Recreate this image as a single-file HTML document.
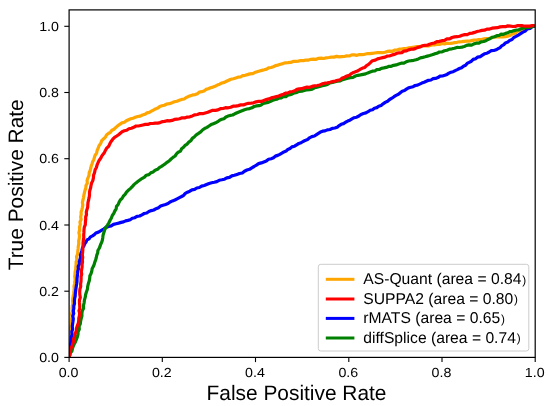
<!DOCTYPE html>
<html><head><meta charset="utf-8"><title>ROC</title>
<style>
html,body{margin:0;padding:0;background:#fff;}
svg{display:block;}
text{font-family:"Liberation Sans",sans-serif;fill:#000;text-rendering:geometricPrecision;}
.t{font-size:13.2px;}
.l{font-size:20.9px;}
.g{font-size:15.68px;}
.p{font-size:11.8px;}
</style></head>
<body>
<svg width="550" height="406" viewBox="0 0 550 406">
<defs><clipPath id="c"><rect x="69.1" y="9.9" width="466.1" height="347.5"/></clipPath></defs>
<rect x="0" y="0" width="550" height="406" fill="#fff"/>
<rect x="69.1" y="9.9" width="466.1" height="347.5" fill="#fff" stroke="none"/>
<path d="M68.8,357.3 L68.6,354.7 L68.8,352.1 L69.6,349.6 L69.5,347.0 L69.4,344.5 L69.7,342.0 L70.0,339.5 L70.0,337.0 L70.5,334.5 L70.2,332.0 L70.6,329.5 L70.7,327.0 L71.3,324.5 L71.5,321.9 L71.5,319.3 L72.0,316.7 L71.5,314.0 L72.3,311.3 L72.1,308.7 L72.3,306.1 L72.8,303.6 L72.6,301.1 L72.7,298.6 L73.2,296.2 L73.6,293.8 L73.9,291.3 L74.2,288.9 L74.0,286.4 L74.5,284.0 L74.9,281.6 L75.1,279.1 L74.7,276.6 L75.0,274.2 L75.1,271.8 L75.7,269.3 L75.8,266.9 L76.1,264.4 L76.1,261.9 L76.9,259.4 L76.5,256.7 L77.6,254.2 L77.8,251.5 L78.1,248.9 L78.3,246.2 L78.8,243.6 L78.7,240.9 L79.3,238.2 L79.5,235.5 L78.9,232.7 L79.6,230.0 L79.5,227.2 L80.3,224.6 L80.0,221.9 L81.1,219.5 L80.7,216.9 L81.2,214.5 L81.1,212.1 L81.9,209.7 L82.4,207.3 L82.8,204.9 L82.4,202.4 L83.0,200.0 L83.5,197.6 L83.9,195.2 L84.4,192.8 L85.0,190.4 L85.8,188.1 L86.0,185.6 L87.3,183.2 L87.1,180.4 L88.0,177.8 L89.0,175.3 L89.2,172.7 L90.2,170.3 L90.8,168.0 L91.3,165.8 L92.1,163.7 L92.7,161.6 L93.8,159.7 L94.4,157.5 L95.1,155.3 L96.6,153.3 L97.1,150.7 L98.2,148.2 L99.1,145.6 L100.8,143.3 L101.7,140.7 L103.6,138.8 L105.5,137.1 L106.5,134.9 L108.3,133.5 L110.4,132.3 L111.9,130.3 L114.1,129.2 L115.9,127.4 L117.8,125.8 L119.8,124.3 L121.9,122.9 L124.4,122.3 L126.3,120.8 L128.5,119.7 L130.7,118.8 L133.0,118.2 L135.3,117.3 L137.7,116.5 L140.2,116.1 L142.5,115.0 L144.9,114.3 L147.0,112.9 L149.3,112.4 L151.4,111.2 L153.4,110.1 L155.5,108.9 L157.7,108.1 L159.7,106.6 L162.0,105.8 L164.4,105.2 L166.8,104.0 L169.4,103.7 L172.0,102.8 L174.4,101.8 L176.9,101.2 L179.3,100.2 L181.6,99.4 L184.1,99.0 L186.1,97.7 L188.2,96.6 L190.5,95.7 L192.7,94.9 L195.2,94.6 L197.4,93.7 L199.3,92.1 L201.7,91.7 L204.0,91.0 L206.0,89.4 L208.3,88.7 L210.5,87.7 L212.9,87.1 L215.1,86.2 L217.3,85.1 L219.6,84.2 L221.8,83.0 L224.3,82.4 L226.5,81.3 L228.7,80.3 L230.9,79.2 L233.4,78.7 L235.7,78.0 L238.0,77.2 L240.5,77.0 L242.7,75.6 L245.1,75.3 L247.5,74.6 L249.9,73.9 L252.4,73.7 L254.7,72.6 L257.1,71.7 L259.5,71.0 L261.9,70.4 L264.2,69.8 L266.6,69.1 L268.6,67.8 L271.0,67.5 L273.3,66.7 L275.5,65.6 L278.0,65.1 L280.4,64.2 L282.9,63.6 L285.4,62.8 L288.0,62.7 L290.6,62.4 L293.1,61.4 L295.7,61.3 L298.3,61.1 L300.9,60.5 L303.5,60.6 L306.0,60.0 L308.6,60.1 L311.1,59.3 L313.6,59.1 L316.2,59.3 L318.6,58.3 L321.2,58.2 L323.8,58.5 L326.3,57.8 L328.8,57.5 L331.4,57.1 L334.0,57.1 L336.5,56.4 L339.1,56.9 L341.6,56.6 L344.2,56.5 L346.7,55.9 L349.3,56.0 L351.8,54.9 L354.3,54.9 L356.9,55.3 L359.4,54.5 L362.0,54.7 L364.5,54.3 L367.0,53.7 L369.6,53.7 L372.1,53.3 L374.6,53.0 L377.2,52.7 L379.7,52.6 L382.4,52.7 L384.9,52.2 L387.3,51.4 L389.8,51.1 L392.4,51.3 L394.6,50.2 L397.0,50.0 L399.2,49.2 L401.7,49.1 L404.0,48.5 L406.5,48.6 L408.9,47.9 L411.4,47.5 L413.9,47.2 L416.5,46.6 L419.1,46.7 L421.6,46.0 L424.1,45.9 L426.7,45.7 L429.3,45.8 L431.8,45.0 L434.3,44.9 L436.9,44.4 L439.4,44.4 L441.9,43.5 L444.5,43.9 L447.0,43.2 L449.6,43.5 L452.1,43.2 L454.5,42.6 L457.0,42.3 L459.4,41.8 L461.8,41.6 L464.2,41.3 L466.7,41.2 L469.2,41.2 L471.6,40.6 L474.0,40.2 L476.4,40.0 L478.8,39.6 L481.4,39.5 L483.9,38.9 L486.5,38.5 L489.2,38.3 L491.9,37.8 L494.6,37.0 L497.3,36.8 L500.1,37.0 L502.8,36.8 L505.4,36.7 L508.0,36.1 L510.5,35.2 L512.7,33.7 L515.5,33.1 L517.5,31.2 L520.2,30.5 L522.5,28.9 L525.0,28.3 L527.5,27.8 L529.8,26.8 L532.2,26.0 L534.7,25.9" fill="none" stroke="#ffa500" stroke-width="3.2" stroke-linejoin="round" stroke-linecap="butt" clip-path="url(#c)"/>
<path d="M68.8,357.3 L69.4,354.9 L70.0,352.5 L70.2,349.9 L70.7,347.4 L70.3,344.8 L71.0,342.2 L71.2,339.6 L71.3,337.0 L72.1,334.4 L71.8,331.7 L72.6,329.2 L72.3,326.5 L72.6,323.9 L73.0,321.3 L73.3,318.7 L72.8,316.0 L73.7,313.5 L73.3,311.0 L73.8,308.5 L73.8,306.0 L74.5,303.5 L74.4,301.0 L74.6,298.6 L75.2,296.1 L75.3,293.7 L75.6,291.2 L75.9,288.7 L76.3,286.3 L76.7,283.8 L77.0,281.4 L77.0,278.9 L77.3,276.4 L77.6,273.9 L77.7,271.4 L78.4,269.0 L78.2,266.5 L79.3,264.2 L79.3,261.8 L80.0,259.5 L80.5,257.3 L80.5,254.9 L81.3,252.6 L81.9,250.4 L82.4,248.0 L83.8,246.1 L84.6,243.9 L86.0,242.1 L87.0,239.9 L89.1,238.8 L90.5,236.9 L92.5,235.9 L94.3,234.7 L95.8,233.0 L97.9,232.4 L99.8,231.3 L101.8,230.1 L104.0,228.9 L106.0,227.4 L108.6,226.5 L111.2,225.9 L113.5,224.4 L116.1,223.7 L118.6,223.1 L121.1,222.4 L123.5,221.9 L125.6,220.9 L127.9,220.4 L130.2,219.7 L132.3,218.2 L134.8,217.7 L137.0,216.3 L139.6,216.0 L141.9,214.8 L144.2,213.5 L146.7,213.0 L148.9,211.5 L151.3,210.6 L153.8,210.0 L156.1,208.7 L158.5,207.7 L160.6,206.1 L163.0,205.2 L165.6,204.5 L168.0,203.6 L170.1,202.0 L172.5,200.9 L174.9,200.0 L177.1,198.8 L179.4,197.6 L181.6,196.5 L183.7,195.3 L185.3,193.4 L187.5,192.2 L189.8,191.2 L192.0,189.8 L194.6,189.4 L196.8,188.0 L199.4,187.5 L201.6,186.1 L204.2,185.5 L206.6,184.5 L209.1,183.5 L211.6,182.8 L214.3,182.3 L216.8,181.6 L219.2,180.3 L221.8,179.8 L224.5,179.2 L226.8,177.8 L229.5,177.4 L231.8,175.9 L234.4,175.3 L237.0,174.4 L239.5,173.5 L242.3,173.0 L244.5,171.2 L246.9,170.0 L249.5,169.3 L251.8,167.8 L254.1,166.5 L256.4,165.1 L258.6,163.6 L261.3,162.9 L263.8,161.9 L266.4,160.9 L268.6,159.3 L271.2,158.7 L273.5,157.8 L275.4,156.1 L277.7,155.4 L279.8,154.3 L281.9,153.1 L283.9,151.9 L286.1,151.1 L287.8,149.4 L290.0,148.5 L291.9,146.9 L294.5,146.2 L296.6,144.8 L298.8,143.5 L301.1,142.7 L303.1,141.5 L305.2,140.4 L307.5,139.6 L309.5,137.8 L311.8,136.6 L314.4,136.0 L316.5,134.6 L318.4,133.4 L320.4,132.1 L322.6,131.2 L325.0,130.9 L327.3,129.9 L330.0,129.5 L332.3,128.3 L334.8,128.0 L337.2,127.2 L339.2,125.6 L341.2,124.3 L343.5,123.6 L345.5,122.2 L347.7,121.1 L349.9,120.2 L352.0,118.9 L354.1,117.7 L356.7,117.2 L358.9,116.0 L361.0,114.4 L363.4,113.5 L365.9,112.9 L368.1,111.7 L370.1,110.3 L372.5,109.7 L374.4,108.2 L376.8,107.6 L378.7,106.2 L381.1,105.4 L383.1,103.8 L385.2,102.4 L387.6,101.2 L389.6,99.5 L391.9,98.2 L394.0,96.7 L396.1,95.4 L398.4,94.3 L400.3,92.7 L402.2,91.2 L404.5,90.5 L406.4,89.1 L408.5,87.9 L410.8,87.3 L413.1,86.7 L415.2,85.5 L417.5,85.1 L419.7,84.1 L421.8,83.1 L424.1,82.3 L426.3,81.3 L428.5,80.3 L431.0,80.0 L433.1,78.7 L435.6,78.4 L437.9,77.6 L440.0,76.1 L442.5,76.0 L444.8,75.3 L447.0,74.4 L448.9,73.1 L450.9,72.2 L453.2,71.7 L455.2,70.6 L457.3,69.6 L459.4,68.5 L461.6,67.7 L463.4,66.2 L465.6,65.3 L467.1,63.4 L469.2,62.3 L471.4,61.2 L473.2,59.4 L475.6,58.7 L477.7,57.1 L480.3,56.6 L482.4,55.2 L484.5,53.8 L487.0,53.2 L489.2,52.0 L491.3,50.7 L493.8,50.5 L496.1,49.8 L498.1,48.7 L500.2,47.6 L501.7,45.8 L503.8,44.7 L505.4,42.9 L507.8,42.1 L509.6,40.4 L512.0,39.5 L513.8,37.5 L516.0,36.4 L518.3,35.1 L520.6,33.6 L522.9,32.1 L525.4,31.0 L527.3,29.0 L530.0,28.5 L532.1,26.7 L534.7,26.2" fill="none" stroke="#0000ff" stroke-width="3.2" stroke-linejoin="round" stroke-linecap="butt" clip-path="url(#c)"/>
<path d="M68.8,357.3 L70.0,355.3 L70.3,353.0 L71.9,351.2 L72.4,348.9 L73.1,346.6 L74.1,344.3 L75.4,342.0 L76.4,339.5 L77.3,337.0 L78.0,334.4 L78.1,331.7 L79.3,329.2 L79.1,326.4 L80.3,323.9 L80.6,321.2 L81.2,318.6 L81.9,316.0 L81.9,313.3 L82.3,310.7 L83.6,308.2 L83.5,305.5 L84.1,302.8 L84.4,300.1 L85.2,297.4 L85.6,294.7 L86.4,292.0 L87.4,289.3 L87.7,286.5 L88.3,283.8 L89.2,281.1 L89.7,278.4 L89.9,275.7 L91.1,273.4 L91.8,271.0 L92.2,268.6 L93.3,266.6 L94.2,264.4 L94.8,262.1 L95.7,259.9 L96.3,257.5 L96.8,255.2 L97.7,252.9 L97.9,250.5 L99.1,248.5 L100.0,246.5 L100.7,244.3 L101.7,242.3 L102.4,240.0 L102.8,237.5 L103.1,234.9 L103.9,232.4 L104.7,229.8 L105.9,227.3 L107.5,225.1 L108.9,222.7 L110.1,220.3 L111.4,218.0 L112.3,215.5 L113.8,213.3 L114.8,211.0 L116.2,208.9 L116.5,206.4 L118.2,204.5 L119.1,202.2 L120.3,200.0 L122.1,198.3 L123.3,196.2 L125.1,194.4 L126.5,192.2 L128.3,190.3 L130.3,188.6 L132.2,186.7 L134.0,184.6 L136.0,182.9 L138.1,181.3 L140.2,179.8 L142.3,178.3 L144.5,177.1 L146.3,175.2 L148.9,174.6 L150.8,172.8 L153.2,171.9 L155.1,170.2 L157.5,169.3 L159.3,167.6 L161.5,166.4 L163.5,165.0 L165.5,163.6 L167.4,162.1 L169.4,160.7 L171.1,159.0 L173.0,157.4 L175.1,156.0 L176.5,153.9 L178.2,152.2 L180.5,151.1 L181.6,148.8 L183.5,147.3 L185.0,145.4 L187.2,144.1 L188.8,142.1 L190.9,140.7 L192.3,138.4 L194.5,136.8 L196.3,134.8 L198.5,133.4 L200.7,131.9 L202.5,130.0 L204.6,128.5 L207.0,127.4 L209.0,126.0 L211.1,124.6 L213.4,123.7 L215.6,122.8 L217.7,121.7 L219.6,120.3 L221.8,119.3 L224.1,118.7 L225.9,117.0 L228.0,116.1 L230.2,115.4 L232.6,115.0 L234.8,113.8 L237.1,112.7 L239.5,111.7 L242.0,110.7 L244.5,109.7 L247.0,109.0 L249.6,108.6 L251.9,107.8 L254.1,106.5 L256.5,105.9 L259.0,105.7 L261.2,104.9 L263.3,103.5 L265.6,102.9 L267.9,102.4 L270.1,101.6 L272.2,100.5 L274.5,99.8 L276.8,99.3 L278.9,98.2 L281.3,97.9 L283.3,96.6 L285.8,96.6 L287.8,95.1 L290.1,94.6 L292.4,93.9 L294.6,92.9 L297.0,92.4 L299.3,91.4 L301.9,91.1 L304.4,90.5 L306.9,89.8 L309.6,89.6 L312.2,89.2 L314.5,87.8 L317.1,87.1 L319.7,86.5 L322.3,85.7 L324.9,85.1 L327.5,84.4 L329.9,82.9 L332.5,82.5 L335.1,81.7 L337.6,81.1 L340.3,80.8 L342.7,79.6 L345.2,78.9 L347.8,78.2 L350.4,77.7 L353.0,77.3 L355.4,76.0 L357.9,75.3 L360.5,74.9 L363.1,74.4 L365.6,73.9 L367.8,72.9 L370.1,72.0 L372.3,71.2 L374.8,71.0 L376.8,69.7 L379.3,69.5 L381.4,68.3 L383.8,67.9 L386.2,67.4 L388.6,66.4 L391.2,66.3 L393.6,65.3 L396.2,64.9 L398.7,64.0 L401.2,63.2 L403.9,63.1 L406.2,61.8 L408.7,61.0 L411.2,60.7 L413.7,60.3 L416.0,59.7 L418.3,58.9 L420.4,57.9 L422.8,57.4 L425.1,56.8 L427.4,56.1 L429.7,55.5 L432.1,54.8 L434.4,53.9 L436.9,53.3 L439.3,52.0 L442.0,51.9 L444.4,50.7 L447.0,50.2 L449.4,49.1 L452.0,48.8 L454.5,48.2 L456.9,47.4 L459.5,47.5 L461.9,47.1 L464.3,46.5 L466.6,45.4 L469.0,44.9 L471.6,45.1 L473.9,43.9 L476.3,43.2 L478.9,43.2 L481.1,41.8 L483.6,41.5 L485.9,40.7 L488.0,39.4 L490.3,38.5 L492.3,37.2 L494.7,36.7 L496.8,35.7 L499.1,35.5 L501.1,34.2 L503.5,34.3 L505.6,33.4 L507.8,32.8 L509.8,31.7 L512.1,31.3 L514.3,30.6 L516.6,30.0 L518.9,29.8 L521.0,28.8 L523.3,28.1 L525.6,27.7 L527.9,27.5 L530.2,27.3 L532.4,26.5 L534.7,26.2" fill="none" stroke="#008000" stroke-width="3.2" stroke-linejoin="round" stroke-linecap="butt" clip-path="url(#c)"/>
<path d="M68.8,357.3 L69.5,355.1 L69.6,352.7 L70.4,350.5 L71.0,348.2 L72.1,346.1 L72.7,343.8 L73.5,341.6 L73.5,339.2 L74.5,337.0 L74.8,334.7 L75.6,332.5 L76.4,330.4 L76.6,328.0 L77.3,325.7 L78.3,323.3 L78.7,320.7 L78.8,318.1 L79.4,315.7 L79.7,313.2 L79.0,310.8 L79.8,308.3 L79.7,305.6 L79.5,302.9 L79.4,300.2 L80.3,297.4 L79.8,294.6 L79.7,291.9 L79.9,289.2 L80.7,286.6 L80.6,284.0 L81.0,281.5 L81.1,279.0 L81.1,276.5 L81.7,274.1 L81.3,271.7 L81.7,269.3 L82.1,266.9 L82.1,264.4 L82.5,262.0 L82.4,259.6 L82.7,257.2 L82.3,254.8 L82.6,252.4 L82.8,249.9 L82.8,247.5 L83.0,245.0 L83.1,242.5 L83.4,240.0 L83.8,237.5 L83.7,235.0 L83.9,232.4 L84.0,229.8 L84.3,227.2 L85.3,224.6 L85.4,222.0 L85.7,219.5 L85.7,216.9 L86.5,214.6 L86.3,212.1 L86.9,209.7 L87.7,207.3 L87.8,204.9 L88.0,202.4 L88.6,200.0 L89.1,197.7 L89.5,195.3 L89.5,192.8 L89.8,190.4 L90.6,188.0 L91.0,185.6 L91.6,183.0 L92.8,180.6 L93.4,177.9 L93.6,175.1 L94.6,172.5 L95.1,169.8 L96.4,167.5 L97.1,164.9 L98.1,162.5 L99.2,160.3 L100.7,158.3 L101.7,156.1 L103.1,154.2 L104.5,152.4 L105.5,150.2 L106.7,148.1 L108.7,146.3 L109.8,143.8 L111.1,141.4 L112.8,139.2 L114.6,137.3 L116.7,136.0 L118.6,134.7 L120.3,133.2 L122.1,131.7 L124.3,130.8 L126.7,130.2 L128.9,128.7 L131.4,128.2 L133.7,127.3 L136.0,126.0 L138.4,126.0 L140.7,125.5 L142.9,125.0 L145.3,124.4 L147.8,124.4 L150.2,123.5 L152.8,123.5 L155.2,123.1 L157.7,123.1 L160.0,122.6 L162.2,121.7 L164.6,121.4 L167.0,120.7 L169.5,120.9 L172.0,120.4 L174.5,119.4 L177.1,119.2 L179.6,118.7 L182.1,117.8 L184.7,117.9 L187.2,117.1 L189.8,116.8 L192.3,115.9 L194.8,114.8 L197.4,114.5 L199.9,113.6 L202.7,113.7 L205.2,113.0 L207.8,112.3 L210.2,111.2 L212.7,110.3 L215.5,110.4 L218.0,109.9 L220.4,108.7 L223.0,108.5 L225.5,107.7 L228.2,107.8 L230.7,107.3 L233.1,106.2 L235.8,106.1 L238.3,105.6 L240.8,104.9 L243.5,104.9 L245.9,104.0 L248.4,103.3 L251.0,103.1 L253.6,102.8 L256.1,101.8 L258.6,101.4 L261.3,101.4 L263.8,100.5 L266.3,99.6 L268.8,98.9 L271.3,97.9 L273.8,97.2 L276.4,96.6 L278.8,96.0 L281.1,95.0 L283.4,94.2 L285.5,93.2 L287.9,92.9 L290.0,91.8 L292.5,91.5 L294.7,90.8 L296.9,89.4 L299.3,88.9 L301.9,88.7 L304.4,87.7 L306.9,87.1 L309.6,87.3 L312.1,86.4 L314.6,85.8 L317.2,85.5 L319.8,85.0 L322.2,83.9 L324.8,83.2 L327.4,82.9 L330.0,82.3 L332.5,81.6 L335.1,81.1 L337.7,80.3 L340.2,79.7 L342.3,78.0 L344.7,77.2 L346.9,76.0 L349.4,75.2 L351.4,73.6 L353.6,72.4 L356.1,71.6 L358.4,70.5 L360.5,69.2 L362.6,68.1 L364.8,67.4 L366.5,65.6 L368.6,64.4 L370.4,62.7 L372.4,60.7 L375.3,60.1 L377.6,58.9 L380.1,58.2 L382.6,57.6 L385.1,57.1 L387.4,56.0 L389.9,55.8 L392.2,54.9 L394.6,54.4 L396.9,53.3 L399.3,52.8 L401.8,52.6 L403.9,51.2 L406.4,50.9 L408.6,49.9 L410.9,49.2 L413.4,49.1 L415.7,48.4 L417.9,47.4 L420.3,46.9 L422.4,45.8 L424.8,45.3 L427.3,45.2 L429.5,44.2 L431.9,43.5 L434.4,43.0 L436.8,41.7 L439.4,41.4 L441.9,40.7 L444.6,40.3 L446.9,38.9 L449.6,38.9 L452.0,37.5 L454.5,36.9 L457.2,36.7 L459.7,36.2 L462.2,35.2 L464.7,34.6 L467.3,34.6 L469.7,33.4 L472.2,33.1 L474.6,32.4 L477.0,31.5 L479.5,31.0 L482.0,30.4 L484.5,30.2 L486.9,29.1 L489.6,29.1 L492.1,28.2 L494.7,27.9 L497.4,27.7 L500.1,26.9 L502.8,26.6 L505.4,26.7 L507.9,25.8 L510.4,26.1 L512.9,26.5 L515.3,26.4 L517.7,25.6 L520.1,25.7 L522.5,25.7 L525.0,26.2 L527.4,26.1 L529.8,26.1 L532.3,25.6 L534.7,25.7" fill="none" stroke="#ff0000" stroke-width="3.2" stroke-linejoin="round" stroke-linecap="butt" clip-path="url(#c)"/>
<rect x="69.1" y="9.9" width="466.1" height="347.5" fill="none" stroke="#000" stroke-width="1.2"/>
<line x1="69.1" y1="357.4" x2="69.1" y2="362.09999999999997" stroke="#000" stroke-width="1.1"/>
<text transform="translate(68.6,376.9) scale(1.08,1)" text-anchor="middle" class="t">0.0</text>
<line x1="69.1" y1="357.4" x2="64.3" y2="357.4" stroke="#000" stroke-width="1.1"/>
<text transform="translate(59.0,362.1) scale(1.08,1)" text-anchor="end" class="t">0.0</text>
<line x1="162.3" y1="357.4" x2="162.3" y2="362.09999999999997" stroke="#000" stroke-width="1.1"/>
<text transform="translate(161.8,376.9) scale(1.08,1)" text-anchor="middle" class="t">0.2</text>
<line x1="69.1" y1="291.2" x2="64.3" y2="291.2" stroke="#000" stroke-width="1.1"/>
<text transform="translate(59.0,295.9) scale(1.08,1)" text-anchor="end" class="t">0.2</text>
<line x1="255.5" y1="357.4" x2="255.5" y2="362.09999999999997" stroke="#000" stroke-width="1.1"/>
<text transform="translate(255.0,376.9) scale(1.08,1)" text-anchor="middle" class="t">0.4</text>
<line x1="69.1" y1="225.0" x2="64.3" y2="225.0" stroke="#000" stroke-width="1.1"/>
<text transform="translate(59.0,229.7) scale(1.08,1)" text-anchor="end" class="t">0.4</text>
<line x1="348.8" y1="357.4" x2="348.8" y2="362.09999999999997" stroke="#000" stroke-width="1.1"/>
<text transform="translate(348.3,376.9) scale(1.08,1)" text-anchor="middle" class="t">0.6</text>
<line x1="69.1" y1="158.7" x2="64.3" y2="158.7" stroke="#000" stroke-width="1.1"/>
<text transform="translate(59.0,163.4) scale(1.08,1)" text-anchor="end" class="t">0.6</text>
<line x1="442.0" y1="357.4" x2="442.0" y2="362.09999999999997" stroke="#000" stroke-width="1.1"/>
<text transform="translate(441.5,376.9) scale(1.08,1)" text-anchor="middle" class="t">0.8</text>
<line x1="69.1" y1="92.5" x2="64.3" y2="92.5" stroke="#000" stroke-width="1.1"/>
<text transform="translate(59.0,97.2) scale(1.08,1)" text-anchor="end" class="t">0.8</text>
<line x1="535.2" y1="357.4" x2="535.2" y2="362.09999999999997" stroke="#000" stroke-width="1.1"/>
<text transform="translate(534.7,376.9) scale(1.08,1)" text-anchor="middle" class="t">1.0</text>
<line x1="69.1" y1="26.3" x2="64.3" y2="26.3" stroke="#000" stroke-width="1.1"/>
<text transform="translate(59.0,31.0) scale(1.08,1)" text-anchor="end" class="t">1.0</text>
<text x="296.5" y="399.8" text-anchor="middle" class="l">False Positive Rate</text>
<text transform="translate(23.2,184.8) rotate(-90)" text-anchor="middle" class="l">True Positive Rate</text>
<rect x="318.3" y="264.3" width="210.5" height="86.7" rx="2.5" ry="2.5" fill="#fff" fill-opacity="0.8" stroke="#ccc" stroke-width="1"/>
<line x1="325.8" y1="279.3" x2="354.4" y2="279.3" stroke="#ffa500" stroke-width="3"/>
<text x="363.3" y="284.1" class="g">AS-Quant (area = 0.84<tspan class="p" dx="0.7" dy="-0.6">)</tspan></text>
<line x1="325.8" y1="299.0" x2="354.4" y2="299.0" stroke="#ff0000" stroke-width="3"/>
<text x="363.3" y="303.8" class="g">SUPPA2 (area = 0.80<tspan class="p" dx="0.7" dy="-0.6">)</tspan></text>
<line x1="325.8" y1="318.4" x2="354.4" y2="318.4" stroke="#0000ff" stroke-width="3"/>
<text x="363.3" y="323.2" class="g">rMATS (area = 0.65<tspan class="p" dx="0.7" dy="-0.6">)</tspan></text>
<line x1="325.8" y1="338.0" x2="354.4" y2="338.0" stroke="#008000" stroke-width="3"/>
<text x="363.3" y="342.8" class="g">diffSplice (area = 0.74<tspan class="p" dx="0.7" dy="-0.6">)</tspan></text>
</svg>
</body></html>
